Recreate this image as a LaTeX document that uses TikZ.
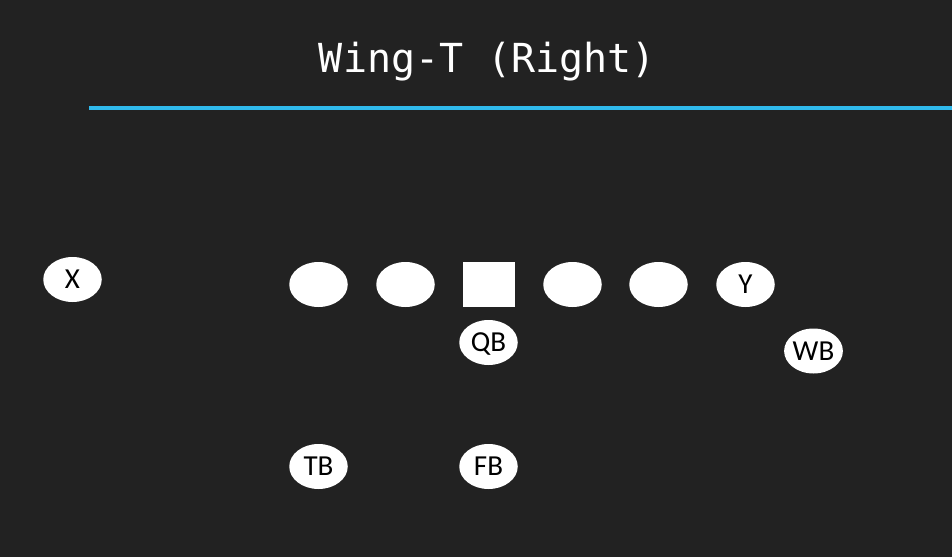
\documentclass[tikz,border=0pt]{standalone}
\usepackage{fontspec}
\setmainfont{Carlito}
\newfontfamily\titlefont{DejaVu Sans Mono}
\usetikzlibrary{shapes.geometric}
\definecolor{board}{RGB}{34,34,34}
\definecolor{chalkblue}{RGB}{48,186,236}

\begin{document}
\begin{tikzpicture}[x=1pt,y=-1pt,
  player/.style={ellipse,fill=white,minimum width=58.5pt,minimum height=45pt,
    inner sep=0pt,text height=18pt,text depth=0pt,font=\fontsize{29}{29}\selectfont},
  snapbox/.style={rectangle,fill=white,minimum width=52.5pt,minimum height=45.5pt,inner sep=0pt}]
\fill [board] (0,0) rectangle (952,557);
\useasboundingbox (0,0) rectangle (952,557);

\node [anchor=base,white,font=\titlefont\fontsize{40}{40}\selectfont] (title) at (487.5,72.5) {Wing-T (Right)};
\draw [chalkblue,line width=3.4pt] (89,108) -- (952,108);

% line
\node [player] (lt) at (318.5,284.5) {};
\node [player] (lg) at (405.5,284.5) {};
\node [snapbox] (c) at (489,284.5) {};
\node [player] (rg) at (572.5,284.5) {};
\node [player] (rt) at (658.5,284.5) {};
\node [player] (y) at (745.5,284.5) {Y};
\node [player] (x) at (72.5,279.5) {X};

% backs
\node [player] (qb) at (488.5,342.5) {QB};
\node [player] (wb) at (813.5,351) {WB};
\node [player] (tb) at (318.5,466.5) {TB};
\node [player] (fb) at (488.5,466.5) {FB};
\end{tikzpicture}
\end{document}
